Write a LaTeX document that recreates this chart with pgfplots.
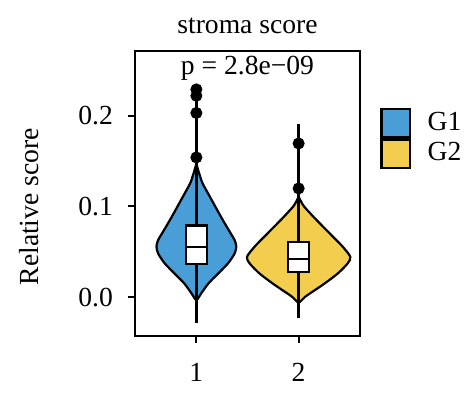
\documentclass[border=0pt]{standalone}
\usepackage{fontspec}
\setmainfont{Liberation Serif}
\usepackage{pgfplots}
\pgfplotsset{compat=1.18}
\definecolor{gblue}{HTML}{4A9ED8}
\definecolor{gyellow}{HTML}{F2CD4E}
\pgfplotsset{every axis title/.style={at={(0.5,1)}, anchor=center, yshift=12.3pt}}
\begin{document}
\fontsize{13.8pt}{16pt}\selectfont
\begin{tikzpicture}
\useasboundingbox (0,0) rectangle (237pt,198.5pt);
\begin{axis}[
  at={(67.5pt,30.5pt)}, anchor=south west,
  scale only axis, width=112.5pt, height=142.65pt,
  xmin=0.4, xmax=2.6, ymin=-0.043, ymax=0.2717,
  axis line style={line width=1.15pt},
  tick style={line width=1.1pt, black},
  tick align=outside, major tick length=3.6pt,
  xtick={1,2}, xticklabels={1,2},
  ytick={0,0.1,0.2}, yticklabels={0.0,0.1,0.2},
  xtick pos=bottom, ytick pos=left,
  xticklabel style={yshift=-5pt},
  yticklabel style={xshift=-2.7pt},
  title={stroma score},
  ylabel={Relative score},
  ylabel style={at={(axis description cs:-0.469,0.453)}, anchor=center},
  legend image code/.code={\draw[#1] (0pt,-7.1pt) rectangle (14.2pt,7.1pt);},
  legend style={draw=none, fill=none, inner sep=0pt, row sep=0pt,
    nodes={inner sep=0pt},
    at={(axis description cs:1.089,0.801)}, anchor=north west},
  legend cell align=left,
  every axis legend/.append style={/tikz/every odd column/.append style={column sep=8.3pt}},
]
% violins
\addplot[fill=gblue, draw=black, line width=1.1pt, smooth, tension=0.45] coordinates {
(1,0.147) (0.98,0.139) (0.96,0.132) (0.939,0.1253) (0.85,0.107) (0.76,0.0886) (0.684,0.0739)
(0.626,0.0628) (0.61,0.0555) (0.626,0.048) (0.69,0.0372) (0.785,0.0261)
(0.881,0.0151) (0.952,0.0041) (1,-0.0033)
(1.048,0.0041) (1.119,0.0151) (1.215,0.0261) (1.31,0.0372) (1.374,0.048)
(1.39,0.0555) (1.374,0.0628) (1.316,0.0739) (1.24,0.0886) (1.15,0.107)
(1.061,0.1253) (1.04,0.132) (1.02,0.139) (1,0.147)} -- cycle;
\addlegendentry{G1}
\addplot[fill=gyellow, draw=black, line width=1.1pt, smooth, tension=0.45] coordinates {
(2,0.1106) (1.975,0.105) (1.945,0.0996) (1.856,0.0886) (1.76,0.0775) (1.664,0.0665)
(1.569,0.0555) (1.495,0.0444) (1.52,0.0372) (1.616,0.0261) (1.744,0.0151)
(1.84,0.0077) (1.936,0.0003) (2,-0.006)
(2.064,0.0003) (2.16,0.0077) (2.256,0.0151) (2.384,0.0261) (2.48,0.0372)
(2.505,0.0444) (2.431,0.0555) (2.336,0.0665) (2.24,0.0775) (2.144,0.0886)
(2.055,0.0996) (2.025,0.105) (2,0.1106)} -- cycle;
\addlegendentry{G2}
% whisker lines
\addplot[forget plot, black, line width=1.15pt] coordinates {(1,-0.029) (1,0.234)};
\addplot[forget plot, black, line width=1.15pt] coordinates {(2,-0.0235) (2,0.1907)};
% boxes
\addplot[forget plot, fill=white, draw=black, line width=1.1pt] coordinates {
(0.895,0.036) (1.105,0.036) (1.105,0.079) (0.895,0.079)} -- cycle;
\addplot[forget plot, black, line width=1.1pt] coordinates {(0.895,0.0548) (1.105,0.0548)};
\addplot[forget plot, fill=white, draw=black, line width=1.1pt] coordinates {
(1.898,0.0272) (2.102,0.0272) (2.102,0.061) (1.898,0.061)} -- cycle;
\addplot[forget plot, black, line width=1.1pt] coordinates {(1.898,0.0419) (2.102,0.0419)};
% outliers
\addplot[forget plot, only marks, mark=*, mark size=2.8pt, black] coordinates {
(1,0.229) (1,0.222) (1,0.203) (1,0.154) (2,0.1694) (2,0.1198)};
\node at (rel axis cs:0.5,1) [anchor=center, yshift=-9pt] {p = 2.8e−09};
\end{axis}
\end{tikzpicture}
\end{document}
